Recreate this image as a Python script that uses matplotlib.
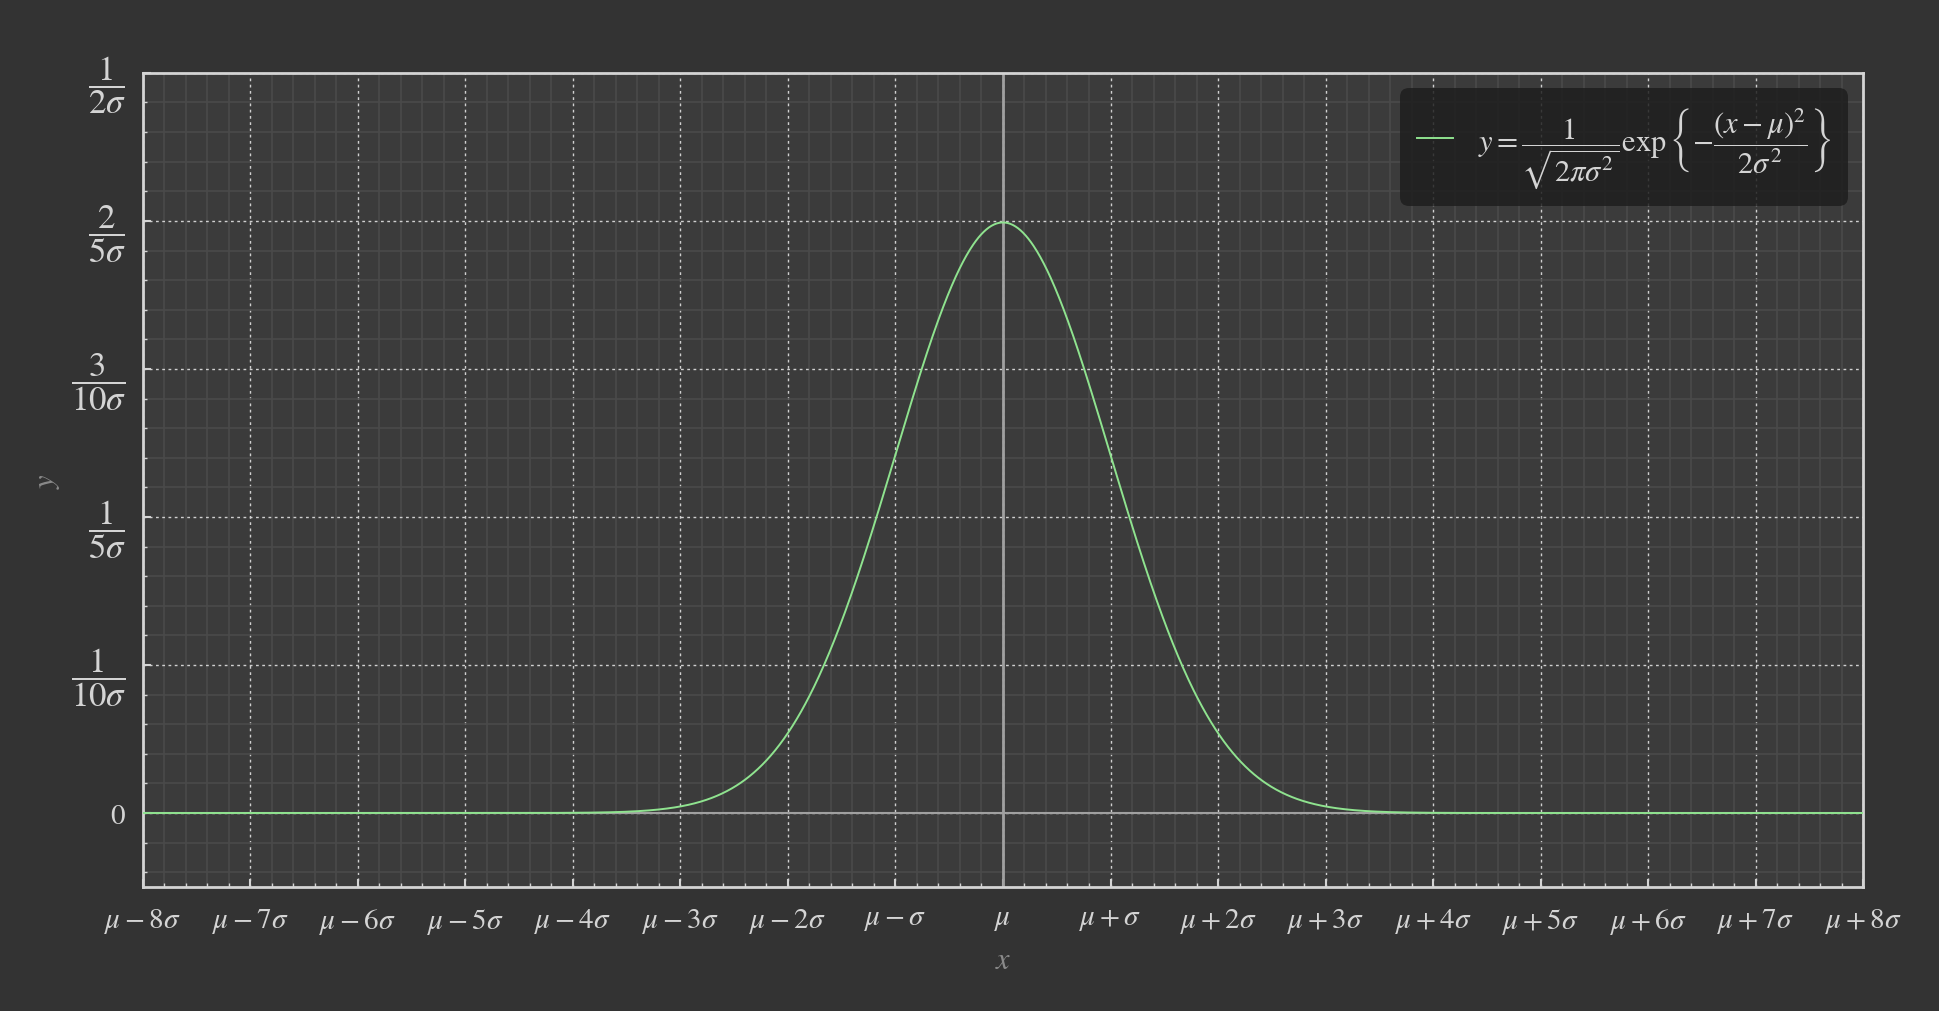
import numpy as np
import matplotlib.pyplot as plt
from matplotlib.ticker import MultipleLocator

plt.rcParams['mathtext.fontset'] = 'stix'
plt.rcParams['font.family'] = 'STIXGeneral'

# Normal distribution shown in the legend
mu = 0.0
sigma = 1.0
x_range = (-8, 8)

x_ticks = list(range(-8, 9))
x_tick_labels = [r'$\mu-8\sigma$', r'$\mu-7\sigma$', r'$\mu-6\sigma$', r'$\mu-5\sigma$',
                 r'$\mu-4\sigma$', r'$\mu-3\sigma$', r'$\mu-2\sigma$', r'$\mu-\sigma$',
                 r'$\mu$',
                 r'$\mu+\sigma$', r'$\mu+2\sigma$', r'$\mu+3\sigma$', r'$\mu+4\sigma$',
                 r'$\mu+5\sigma$', r'$\mu+6\sigma$', r'$\mu+7\sigma$', r'$\mu+8\sigma$']
y_ticks = [0, 0.1, 0.2, 0.3, 0.4, 0.5]
y_tick_labels = [r'$0$', r'$\dfrac{1}{10\sigma}$', r'$\dfrac{1}{5\sigma}$',
                 r'$\dfrac{3}{10\sigma}$', r'$\dfrac{2}{5\sigma}$', r'$\dfrac{1}{2\sigma}$']

x = np.linspace(x_range[0], x_range[1], 2000)
y = np.exp(-(x - mu) ** 2 / (2 * sigma ** 2)) / np.sqrt(2 * np.pi * sigma ** 2)

bg = '#333333'
ax_bg = '#3b3b3b'
fg = '#d4d4d4'

fig = plt.figure(figsize=(19.39, 10.12), dpi=100, facecolor=bg)
ax = fig.add_axes([0.0735, 0.1225, 0.8875, 0.8045])
ax.set_facecolor(ax_bg)

ax.axvline(mu, color='#a0a0a0', linewidth=2, zorder=1)
ax.axhline(0, color='#a0a0a0', linewidth=1.5, zorder=1)

label = (r'$y=\dfrac{1}{\sqrt{2\pi\sigma^2}}\mathrm{exp}\,\left\{-\dfrac{(x-\mu)^2}{2\sigma^2}\right\}$')
ax.plot(x, y, color='#8fe38f', linewidth=1.4, label=label, zorder=3)

ax.set_xlim(*x_range)
ax.set_ylim(-0.05, 0.5)
ax.set_xticks(x_ticks)
ax.set_xticklabels(x_tick_labels, fontsize=21)
ax.set_yticks(y_ticks)
ax.set_yticklabels(y_tick_labels, fontsize=25)
ax.get_yticklabels()[0].set_fontsize(21)
ax.xaxis.set_minor_locator(MultipleLocator(0.2))
ax.yaxis.set_minor_locator(MultipleLocator(0.02))

ax.tick_params(which='major', direction='in', length=6, width=1.5, color=fg,
               labelcolor=fg, pad=12)
ax.tick_params(which='minor', direction='in', length=3, width=1, color=fg)
ax.tick_params(axis='x', which='major', pad=14)

ax.grid(True, which='major', color='#d0d0d0', linestyle=(0, (2, 2.5)), linewidth=1, zorder=0)
ax.grid(True, which='minor', color='#4a4a4a', linestyle='-', linewidth=1.2, zorder=0)
ax.set_axisbelow(True)

for s in ax.spines.values():
    s.set_color(fg)
    s.set_linewidth(2)

ax.set_xlabel(r'$x$', color='#8a8a8a', fontsize=22, labelpad=8)
ax.set_ylabel(r'$y$', color='#8a8a8a', fontsize=22, labelpad=6)

leg = ax.legend(loc='upper right', fontsize=22, facecolor='#1e1e1e', framealpha=0.85,
                edgecolor='none', fancybox=True, handlelength=1.2, borderpad=0.55,
                labelcolor=fg)
leg.get_frame().set_boxstyle('round', pad=0.0, rounding_size=0.3)

fig.savefig('out.png', dpi=100, facecolor=bg)
